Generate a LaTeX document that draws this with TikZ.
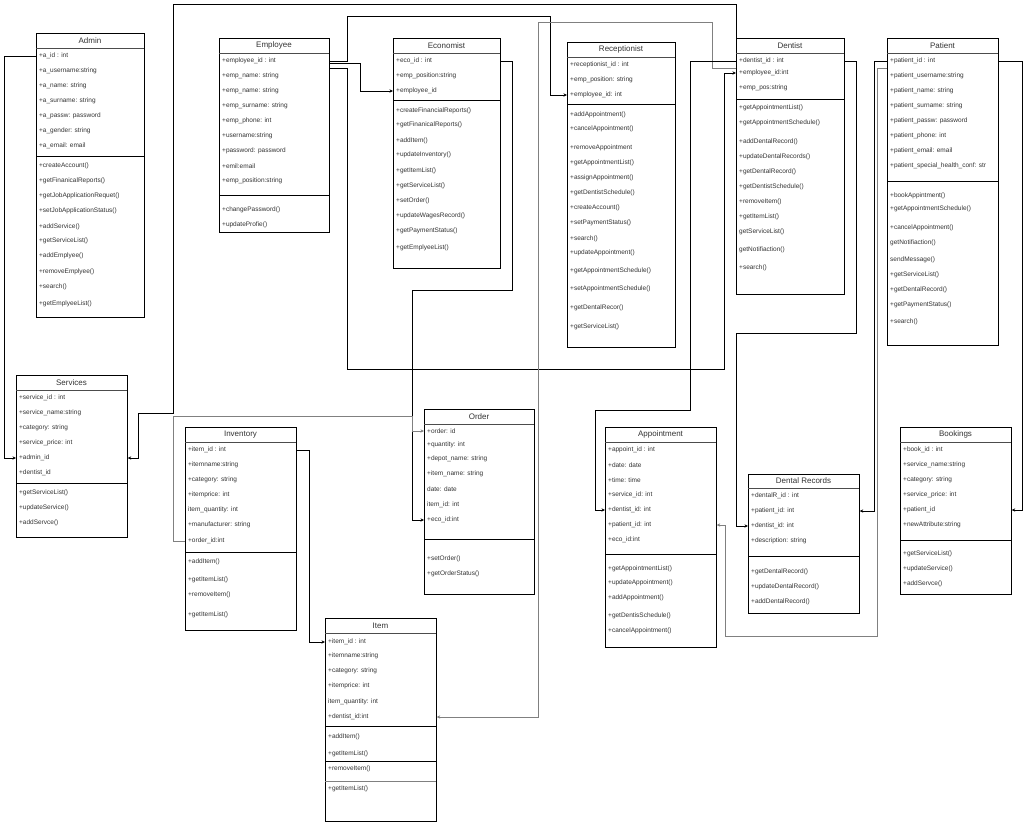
\documentclass[tikz,border=0pt]{standalone}
\usepackage{fontspec}
\setmainfont{Liberation Sans}
\usetikzlibrary{arrows.meta}
\newcommand\clsbox[8]{%
 \node[draw,fill=white,inner sep=0,line width=0.7pt,anchor=north west,minimum width={(#4-#2)*1pt},minimum height={(#5-#3)*1pt}] (#1) at (#2,#3) {};
 \node[ttl] (#1t) at ({(#2+#4)/2},{(#3+#7)/2}) {#6};
 \draw[line width=0.6pt,black!70] (#2,#7) -- (#4,#7);
 \draw[line width=0.6pt] (#2,#8) -- (#4,#8);}
\begin{document}
\begin{tikzpicture}[x=1pt,y=-1pt,
 ttl/.style={font=\fontsize{8}{9}\selectfont,text=black!80,inner sep=0},
 row/.style={font=\fontsize{6.5}{7}\selectfont,text=black!80,anchor=west,inner sep=0},
 arr/.style={line width=0.6pt,-{Stealth[length=3.5pt,width=3.2pt]}},
 ln/.style={line width=0.6pt},
 gl/.style={line width=0.6pt,black!50}]
\useasboundingbox (0,0) rectangle (1024,822);
% Admin
\clsbox{admin}{36}{33}{144}{317}{Admin}{48}{156}
\foreach \y/\t in {56/{+a\_id : int},71/{+a\_username:string},86/{+a\_name: string},101/{+a\_surname: string},116/{+a\_passw: password},131/{+a\_gender: string},146/{+a\_email: email},166/{+createAccount()},181/{+getFinanicalReports()},196/{+getJobApplicationRequet()},211/{+setJobApplicationStatus()},227/{+addService()},241/{+getServiceList()},256/{+addEmplyee()},272/{+removeEmplyee()},287/{+search()},304/{+getEmplyeeList()}}{\node[row] (adm\y) at (39,\y) {\t};}
% Employee
\clsbox{employee}{219}{38}{329}{232}{Employee}{53}{195}
\foreach \y/\t in {61/{+employee\_id : int},76/{+emp\_name: string},91/{+emp\_name: string},106/{+emp\_surname: string},121/{+emp\_phone: int},136/{+username:string},151/{+password: password},166/{+emil:email},181/{+emp\_position:string},210/{+changePassword()},225/{+updateProfie()}}{\node[row] (emp\y) at (222,\y) {\t};}
% Economist
\clsbox{economist}{393}{38}{500}{268}{Economist}{53}{100}
\foreach \y/\t in {61/{+eco\_id : int},76/{+emp\_position:string},91/{+employee\_id},111/{+createFinancialReports()},125/{+getFinanicalReports()},141/{+addItem()},155/{+updateInventory()},171/{+getItemList()},186/{+getServiceList()},201/{+setOrder()},216/{+updateWagesRecord()},231/{+getPaymentStatus()},248/{+getEmplyeeList()}}{\node[row] (eco\y) at (396,\y) {\t};}
% Receptionist
\clsbox{receptionist}{567}{42}{675}{347}{Receptionist}{57}{104}
\foreach \y/\t in {65/{+receptionist\_id : int},80/{+emp\_position: string},95/{+employee\_id: int},115/{+addAppointment()},129/{+cancelAppointment()},148/{+removeAppointment},163/{+getAppointmentList()},178/{+assignAppointment()},193/{+getDentistSchedule()},208/{+createAccount()},223/{+setPaymentStatus()},239/{+search()},253/{+updateAppointment()},271/{+getAppointmentSchedule()},289/{+setAppointmentSchedule()},308/{+getDentalRecor()},327/{+getServiceList()}}{\node[row] (rec\y) at (570,\y) {\t};}
% Dentist
\clsbox{dentist}{736}{38}{844}{294}{Dentist}{53}{99}
\foreach \y/\t in {61/{+dentist\_id : int},73/{+employee\_id:int},88/{+emp\_pos:string},108/{+getAppointmentList()},123/{+getAppointmentSchedule()},142/{+addDentalRecord()},157/{+updateDentalRecords()},172/{+getDentalRecord()},187/{+getDentistSchedule()},202/{+removeItem()},217/{+getItemList()},232/{getServiceList()},250/{getNotifiaction()},268/{+search()}}{\node[row] (den\y) at (739,\y) {\t};}
% Patient
\clsbox{patient}{887}{38}{998}{345}{Patient}{53}{181}
\foreach \y/\t in {61/{+patient\_id : int},76/{+patient\_username:string},91/{+patient\_name: string},106/{+patient\_surname: string},121/{+patient\_passw: password},136/{+patient\_phone: int},151/{+patient\_email: email},166/{+patient\_special\_health\_conf: str},196/{+bookAppintment()},209/{+getAppointmentSchedule()},228/{+cancelAppointment()},243/{getNotifiaction()},260/{sendMessage()},275/{+getServiceList()},290/{+getDentalRecord()},305/{+getPaymentStatus()},322/{+search()}}{\node[row] (pat\y) at (890,\y) {\t};}
% Services
\clsbox{services}{16}{375}{127}{537}{Services}{390}{483}
\foreach \y/\t in {398/{+service\_id : int},413/{+service\_name:string},428/{+category: string},443/{+service\_price: int},458/{+admin\_id},473/{+dentist\_id},493/{+getServiceList()},508/{+updateService()},523/{+addServce()}}{\node[row] (svc\y) at (19,\y) {\t};}
% Inventory
\clsbox{inventory}{185}{427}{296}{630}{Inventory}{442}{552}
\foreach \y/\t in {450/{+item\_id : int},465/{+itemname:string},480/{+category: string},495/{+itemprice: int},510/{item\_quantity: int},525/{+manufacturer: string},541/{+order\_id:int},562/{+addItem()},580/{+getItemList()},595/{+removeItem()},615/{+getItemList()}}{\node[row] (inv\y) at (188,\y) {\t};}
% Order
\clsbox{order}{424}{409}{534}{594}{Order}{424}{539}
\foreach \y/\t in {431/{+order: id},445/{+quantity: int},459/{+depot\_name: string},474/{+item\_name: string},489/{date: date},505/{item\_id: int},520/{+eco\_id:int},559/{+setOrder()},574/{+getOrderStatus()}}{\node[row] (ord\y) at (427,\y) {\t};}
% Item
\clsbox{item}{325}{618}{436}{821}{Item}{633}{726}
\draw[ln] (325,761) -- (436,761);
\draw[gl] (325,781) -- (436,781);
\foreach \y/\t in {642/{+item\_id : int},656/{+itemname:string},671/{+category: string},686/{+itemprice: int},702/{item\_quantity: int},717/{+dentist\_id:int},737/{+addItem()},754/{+getItemList()},769/{+removeItem()},789/{+getItemList()}}{\node[row] (itm\y) at (328,\y) {\t};}
% Appointment
\clsbox{appointment}{605}{427}{716}{647}{Appointment}{442}{554}
\foreach \y/\t in {450/{+appoint\_id : int},465/{+date: date},480/{+time: time},495/{+service\_id: int},510/{+dentist\_id: int},525/{+patient\_id: int},540/{+eco\_id:int},569/{+getAppointmentList()},583/{+updateAppointment()},598/{+addAppointment()},616/{+getDentisSchedule()},631/{+cancelAppointment()}}{\node[row] (app\y) at (608,\y) {\t};}
% Dental Records
\clsbox{dental}{748}{474}{859}{613}{Dental Records}{488}{556}
\foreach \y/\t in {496/{+dentalR\_id : int},511/{+patient\_id: int},526/{+dentist\_id: int},541/{+description: string},572/{+getDentalRecord()},587/{+updateDentalRecord()},602/{+addDentalRecord()}}{\node[row] (dr\y) at (751,\y) {\t};}
% Bookings
\clsbox{bookings}{900}{427}{1011}{594}{Bookings}{442}{540}
\foreach \y/\t in {450/{+book\_id : int},465/{+service\_name:string},480/{+category: string},495/{+service\_price: int},510/{+patient\_id},525/{+newAttribute:string},554/{+getServiceList()},569/{+updateService()},584/{+addServce()}}{\node[row] (bk\y) at (903,\y) {\t};}
% connectors
\draw[arr] (admin.west |- adm56) -- (4,56) -- (4,458) -- (services.west |- svc458);
\draw[arr] (dentist.north west) -- (736,4) -- (173,4) -- (173,413) -- (138,413) -- (138,458) -- (services.east |- svc458);
\draw[arr] (employee.east |- emp61) -- (347,61) -- (347,16) -- (550,16) -- (550,95) -- (receptionist.west |- rec95);
\draw[arr] (329,63) coordinate (e2) -- (360,63) -- (360,91) -- (economist.west |- eco91);
\draw[arr] (employee.east |- 0,68) -- (347,68) -- (347,369) -- (724,369) -- (724,73) -- (dentist.west |- den73);
\draw[arr] (economist.east |- eco61) -- (512,61) -- (512,290) -- (412,290) -- (412,520) -- (order.west |- ord520);
\draw[arr,gl] (inventory.west |- inv541) -- (173,541) -- (173,416) -- (412,416) -- (412,431) -- (order.west |- ord431);
\draw[arr] (inventory.east |- inv450) -- (309,450) -- (309,642) -- (item.west |- itm642);
\draw[arr,gl] (dentist.west |- 0,68) -- (712,68) -- (712,22) -- (538,22) -- (538,717) -- (item.east |- itm717);
\draw[arr] (dentist.west |- den61) -- (690,61) -- (690,410) -- (595,410) -- (595,510) -- (appointment.west |- app510);
\draw[arr] (dentist.east |- den61) -- (856,61) -- (856,333) -- (736,333) -- (736,526) -- (dental.west |- dr526);
\draw[arr] (patient.west |- pat61) -- (874,61) -- (874,511) -- (dental.east |- dr511);
\draw[arr,gl] (patient.west |- 0,68) -- (877,68) -- (877,636) -- (725,636) -- (725,525) -- (appointment.east |- app525);
\draw[arr] (patient.east |- pat61) -- (1022,61) -- (1022,510) -- (bookings.east |- bk510);
\end{tikzpicture}
\end{document}
